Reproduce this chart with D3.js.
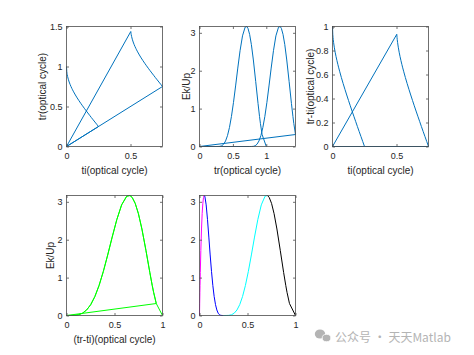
<!DOCTYPE html>
<html><head><meta charset="utf-8">
<script src="https://cdn.jsdelivr.net/npm/d3@7"></script>
<style>body{margin:0;background:#fff}svg{display:block}</style>
</head><body>
<svg id="c" width="474" height="355"></svg>
<script>
// ---- data: first half-cycle (ionisation time ti, return time tr, return energy Ek/Up), in optical cycles
const c1Ti = [0, 0.00208, 0.00417, 0.00556, 0.00833, 0.01389, 0.02083, 0.02778, 0.03472, 0.04167, 0.04722, 0.05556, 0.06944, 0.08333, 0.09722, 0.11111, 0.125, 0.13889, 0.15278, 0.16667, 0.18056, 0.19444, 0.20833, 0.22222, 0.23611, 0.25];
const c1Tr = [1.0, 0.9372, 0.9119, 0.8986, 0.8764, 0.8414, 0.8064, 0.7768, 0.7505, 0.7264, 0.7085, 0.6830, 0.6438, 0.6074, 0.5732, 0.5404, 0.5089, 0.4783, 0.4483, 0.4191, 0.3903, 0.3614, 0.3333, 0.3056, 0.2778, 0.25];
const c1Ek = [0, 0.316, 0.609, 0.793, 1.135, 1.718, 2.283, 2.689, 2.959, 3.114, 3.167, 3.149, 2.920, 2.530, 2.070, 1.598, 1.164, 0.793, 0.500, 0.287, 0.146, 0.061, 0.020, 0.004, 0.0005, 0];
// second half-cycle
const c2Ti = [0.50208, 0.50417, 0.50556, 0.50833, 0.51389, 0.52083, 0.52778, 0.53472, 0.54167, 0.54722, 0.55556, 0.56944, 0.58333, 0.59722, 0.61111, 0.625, 0.63889, 0.65278, 0.66667, 0.68056, 0.69444, 0.70833, 0.72222, 0.73611, 0.75];
const c2Tr = [1.4372, 1.4119, 1.3986, 1.3764, 1.3414, 1.3064, 1.2768, 1.2505, 1.2264, 1.2085, 1.1830, 1.1438, 1.1074, 1.0732, 1.0404, 1.0089, 0.9783, 0.9483, 0.9191, 0.8903, 0.8614, 0.8333, 0.8056, 0.7778, 0.75];
const c2Ek = [0.316, 0.609, 0.793, 1.135, 1.718, 2.283, 2.689, 2.959, 3.114, 3.167, 3.149, 2.920, 2.530, 2.070, 1.598, 1.164, 0.793, 0.500, 0.287, 0.146, 0.061, 0.020, 0.004, 0.0005, 0];
// unfilled (no-return) entries stored as zeros
const gapTi = [0], gapTr = [0], gapEk = [0];
const peakIndex = 10; // index of the 3.17 Up cut-off in the first half-cycle

// tick values
const ticks1X = [0, 0.5], ticks1Y = [0, 0.5, 1, 1.5];
const ticks2X = [0, 0.5, 1], ticks2Y = [0, 1, 2, 3];
const ticks3X = [0, 0.5], ticks3Y = [0, 0.2, 0.4, 0.6, 0.8, 1];
const ticks4X = [0, 0.5, 1], ticks4Y = [0, 1, 2, 3];
const ticks5X = [0, 0.5, 1], ticks5Y = [0, 1, 2, 3];

// ---- sequences in plotting order
const allTi = [...c1Ti, ...gapTi, ...c2Ti, ...gapTi];
const allTr = [...c1Tr, ...gapTr, ...c2Tr, ...gapTr];
const allEk = [...c1Ek, ...gapEk, ...c2Ek, ...gapEk];
const allDt = allTr.map((v, i) => v - allTi[i]);
const zip = (a, b) => a.map((v, i) => [v, b[i]]);

const svg = d3.select('#c');
const FONT = '"Liberation Sans", Arial, Helvetica, sans-serif';
const BLUE = '#0072BD';

function panel(p) {
  const g = svg.append('g').attr('transform', `translate(${p.left},${p.top})`);
  const x = d3.scaleLinear().domain(p.xDomain).range([0, p.w]);
  const y = d3.scaleLinear().domain(p.yDomain).range([p.h, 0]);
  const fmt = d3.format('~g');
  const line = d3.line().x(d => x(d[0])).y(d => y(d[1]));
  p.series.forEach(s => {
    g.append('path').datum(s.pts).attr('d', line)
      .attr('fill', 'none').attr('stroke', s.color).attr('stroke-width', 1)
      .attr('stroke-linejoin', 'round');
  });
  const styleAxis = (sel, labels) => {
    sel.select('.domain').remove();
    sel.selectAll('.tick line').attr('stroke', '#4d4d4d').attr('stroke-width', 0.8);
    sel.selectAll('text').attr('fill', '#262626').style('font-family', FONT).style('font-size', '9px');
    if (!labels) sel.selectAll('text').remove();
  };
  g.append('g').attr('transform', `translate(0,${p.h})`)
    .call(d3.axisBottom(x).tickValues(p.xTicks).tickSize(-2.5).tickPadding(6).tickFormat(fmt))
    .call(s => styleAxis(s, true));
  g.append('g')
    .call(d3.axisTop(x).tickValues(p.xTicks).tickSize(-2.5).tickFormat(fmt))
    .call(s => styleAxis(s, false));
  g.append('g')
    .call(d3.axisLeft(y).tickValues(p.yTicks).tickSize(-2.5).tickPadding(4).tickFormat(fmt))
    .call(s => styleAxis(s, true));
  g.append('g').attr('transform', `translate(${p.w},0)`)
    .call(d3.axisRight(y).tickValues(p.yTicks).tickSize(-2.5).tickFormat(fmt))
    .call(s => styleAxis(s, false));
  g.append('rect').attr('x', 0).attr('y', 0).attr('width', p.w).attr('height', p.h)
    .attr('fill', 'none').attr('stroke', '#4d4d4d').attr('stroke-width', 0.8);
  if (p.xLabel) {
    g.append('text').attr('x', p.w / 2).attr('y', p.h + 27).attr('text-anchor', 'middle')
      .style('font-family', FONT).style('font-size', '10px').attr('fill', '#262626').text(p.xLabel);
  }
  if (p.yLabel) {
    g.append('text').attr('transform', `translate(${-p.yLabelOff},${p.h / 2}) rotate(-90)`)
      .attr('text-anchor', 'middle').attr('dy', '0.35em')
      .style('font-family', FONT).style('font-size', '10px').attr('fill', '#262626').text(p.yLabel);
  }
}

const colL = [66.5, 199.5, 332.5], rowT = [26.5, 195.5];
const W = 96, H = 120;

panel({left: colL[0], top: rowT[0], w: W, h: H, xDomain: [0, 0.75], yDomain: [0, 1.5],
  xTicks: ticks1X, yTicks: ticks1Y, xLabel: 'ti(optical cycle)', yLabel: 'tr(optical cycle)', yLabelOff: 24,
  series: [{pts: zip(allTi, allTr), color: BLUE}]});

panel({left: colL[1], top: rowT[0], w: W, h: H, xDomain: [0, d3.max(allTr)], yDomain: [0, d3.max(allEk)],
  xTicks: ticks2X, yTicks: ticks2Y, xLabel: 'tr(optical cycle)', yLabel: 'Ek/Up', yLabelOff: 13,
  series: [{pts: zip(allTr, allEk), color: BLUE}]});

panel({left: colL[2], top: rowT[0], w: W, h: H, xDomain: [0, 0.75], yDomain: [0, 1],
  xTicks: ticks3X, yTicks: ticks3Y, xLabel: 'ti(optical cycle)', yLabel: 'tr-ti(optical cycle)', yLabelOff: 22.5,
  series: [{pts: zip(allTi, allDt), color: BLUE}]});

panel({left: colL[0], top: rowT[1], w: W, h: H, xDomain: [0, 1], yDomain: [0, d3.max(allEk)],
  xTicks: ticks4X, yTicks: ticks4Y, xLabel: '(tr-ti)(optical cycle)', yLabel: 'Ek/Up', yLabelOff: 16,
  series: [{pts: zip(allDt, allEk), color: '#00ff00'}]});

const mTi = c1Ti.slice(0, peakIndex + 1), mEk = c1Ek.slice(0, peakIndex + 1);
const bTi = c1Ti.slice(peakIndex), bEk = c1Ek.slice(peakIndex);
const cTr = c1Tr.slice(peakIndex), cEk = c1Ek.slice(peakIndex);
const kTr = c1Tr.slice(0, peakIndex + 1), kEk = c1Ek.slice(0, peakIndex + 1);
panel({left: colL[1], top: rowT[1], w: W, h: H, xDomain: [0, 1], yDomain: [0, d3.max(c1Ek)],
  xTicks: ticks5X, yTicks: ticks5Y,
  series: [
    {pts: zip(mTi, mEk), color: '#ff00ff'},
    {pts: zip(bTi, bEk), color: '#0000ff'},
    {pts: zip(cTr, cEk), color: '#00ffff'},
    {pts: zip(kTr, kEk), color: '#000000'}
  ]});

// watermark
const wm = svg.append('g').attr('fill', '#b4b4b4');
wm.append('ellipse').attr('cx', 320).attr('cy', 334).attr('rx', 5.2).attr('ry', 4.5);
wm.append('ellipse').attr('cx', 326.5).attr('cy', 338).attr('rx', 4.3).attr('ry', 3.7).attr('stroke', '#fff').attr('stroke-width', 0.8);
wm.append('text').attr('x', 335).attr('y', 341.5).style('font-family', '"Noto Sans CJK SC", "Noto Sans", sans-serif')
  .style('font-size', '12px').text('公众号 · 天天Matlab');
</script>
</body></html>
